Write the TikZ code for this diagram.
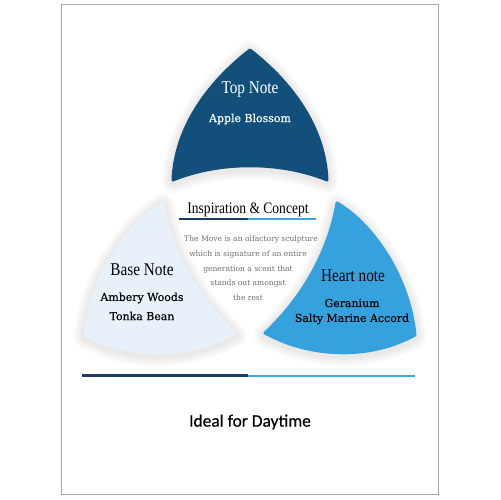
\documentclass[tikz,border=0pt]{standalone}
\usepackage{fontspec}
\setmainfont{DejaVu Serif}
\newfontfamily\titlef[FakeStretch=0.85]{Liberation Serif}
\newfontfamily\slabf[FakeBold=0.4]{DejaVu Serif}
\newfontfamily\bodyf{DejaVu Serif}
\newfontfamily\sansf[FakeBold=0.5]{Carlito}
\definecolor{topblue}{HTML}{124F7B}
\definecolor{palefill}{HTML}{E8F1F9}
\definecolor{heartblue}{HTML}{36A2DD}
\definecolor{navyline}{HTML}{1A3D66}
\definecolor{lightline}{HTML}{3AA3E6}
\definecolor{bodygray}{HTML}{6E6E6E}
\definecolor{framegray}{HTML}{A8A8A8}
\definecolor{shadowc}{HTML}{B8AEA8}
\tikzset{
  shadowring/.style={draw=shadowc, opacity=0.07, line join=round},
  shapefill/.style={fill=#1, draw=#1, line width=3bp, line join=round},
  titletext/.style={font=\titlef\fontsize{18}{20}\selectfont, inner sep=0pt},
  itemtext/.style={font=\slabf\fontsize{11}{13}\selectfont, inner sep=0pt},
  bodytext/.style={font=\bodyf\fontsize{7.6}{9}\selectfont, text=bodygray, inner sep=0pt},
}
\def\topP{(250,50) .. controls (205,85) and (175,130) .. (173,180) .. controls (220,161) and (280,161) .. (327,180) .. controls (325,130) and (295,85) .. cycle}
\def\leftP{(163,203) .. controls (125,225) and (90,280) .. (85,335) .. controls (130,360) and (190,358) .. (235,333) .. controls (200,300) and (172,255) .. cycle}
\def\rightP{(337,203) .. controls (375,225) and (410,280) .. (415,335) .. controls (370,360) and (310,358) .. (265,333) .. controls (300,300) and (328,255) .. cycle}
\begin{document}
\begin{tikzpicture}[x=1bp,y=-1bp]
\useasboundingbox (0,0) rectangle (500,500);
\fill[white] (0,0) rectangle (500,500);
\draw[framegray, line width=1bp] (61,5) rectangle (438,494);
% shadows
\foreach \w in {22,17,12,8} {
  \draw[shadowring, line width=\w bp, yshift=-2bp] \topP;
  \draw[shadowring, line width=\w bp, yshift=-2bp] \leftP;
  \draw[shadowring, line width=\w bp, yshift=-2bp] \rightP;
}
% shapes
\path[shapefill=topblue] \topP;
\path[shapefill=palefill] \leftP;
\path[shapefill=heartblue] \rightP;
% top note
\node[titletext, text=white] (topt) at (250,90) {Top Note};
\node[itemtext, text=white] (topi) at (250,119) {Apple Blossom};
% base note
\node[titletext, text=black] (baset) at (142,270) {Base Note};
\node[itemtext, text=black] (basei1) at (142,298) {Ambery Woods};
\node[itemtext, text=black] (basei2) at (142,316) {Tonka Bean};
% heart note
\node[titletext, text=black] (heartt) at (353,276) {Heart note};
\node[itemtext, text=black] (hearti1) at (352,303) {Geranium};
\node[itemtext, text=black] (hearti2) at (352,319) {Salty Marine Accord};
% centre
\node[font=\titlef\fontsize{16}{18}\selectfont, inner sep=0pt] (insp) at (248,210) {Inspiration \& Concept};
\coordinate (ul1) at (179,219);
\coordinate (ulm) at (248,219);
\coordinate (ul2) at (316,219);
\draw[navyline, line width=1.6bp] (ul1) -- (ulm);
\draw[lightline, line width=1.6bp] (ulm) -- (ul2);
\node[bodytext] (b1) at (251,239) {The Move is an olfactory sculpture};
\node[bodytext] (b2) at (248,254) {which is signature of an entire};
\node[bodytext] (b3) at (248,269) {generation a scent that};
\node[bodytext] (b4) at (248,283) {stands out amongst};
\node[bodytext] (b5) at (248,298) {the rest};
% bottom rule
\coordinate (hl1) at (82,375.5);
\coordinate (hlm) at (248,375.5);
\coordinate (hl2) at (415,375.5);
\draw[navyline, line width=2.2bp] (hl1) -- (hlm);
\draw[lightline, line width=2bp] (hlm) -- (hl2);
\node[font=\sansf\fontsize{17.5}{20}\selectfont, inner sep=0pt] (ideal) at (250,422) {Ideal for Daytime};
\end{tikzpicture}
\end{document}
